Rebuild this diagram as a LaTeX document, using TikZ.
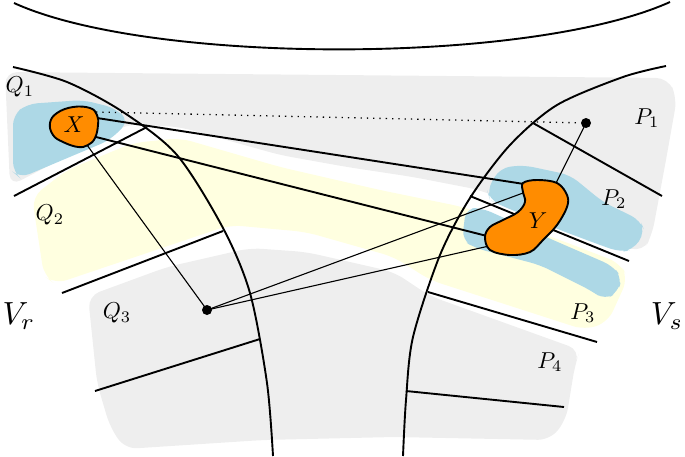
\documentclass[tikz,border=0pt]{standalone}
\begin{document}
\definecolor{gfill}{HTML}{EEEEEE}
\definecolor{yfill}{HTML}{FFFFE0}
\definecolor{bfill}{HTML}{ADD8E6}
\definecolor{blobor}{HTML}{FF8C00}
\begin{tikzpicture}[x=1pt,y=-1pt,
  region/.style={rounded corners=12pt},
  bound/.style={line width=1.9pt},
  part/.style={line width=1.9pt},
  thickc/.style={line width=1.9pt},
  thinc/.style={line width=1.1pt},
  dotc/.style={line width=1.3pt, dash pattern=on 1.3pt off 5pt},
  blob/.style={fill=blobor, draw=black, line width=1.9pt},
  lab/.style={scale=2.3, inner sep=0pt},
  vlab/.style={scale=3.2, inner sep=0pt},
  dotn/.style={circle, fill=black, inner sep=0pt, minimum size=10pt}]
\useasboundingbox (0,0) rectangle (685,456);
% regions
\fill[gfill, region] (5,72) -- (668,78) -- (677,98) -- (666,160) -- (652,235) -- (643,252) -- (600,240) -- (540,215) -- (480,190) -- (413,177) -- (347,167) -- (280,155) -- (180,127) -- (128,124) -- (10,186) -- cycle;
\fill[yfill, region] (32,197) -- (67,170) -- (133,143) -- (180,138) -- (280,167) -- (380,190) -- (463,207) -- (560,240) -- (620,263) -- (628,278) -- (608,322) -- (585,330) -- (430,280) -- (394,257) -- (306,232) -- (230,225) -- (55,284) -- (44,276) -- cycle;
\fill[gfill, region] (88,296) -- (167,267) -- (250,248) -- (306,252) -- (394,272) -- (430,296) -- (580,350) -- (575,365) -- (566,420) -- (550,440) -- (394,437) -- (263,440) -- (125,449) -- (110,427) -- (97,383) -- cycle;
\fill[bfill, rounded corners=10pt] (13,115) -- (27,104) -- (83,100) -- (115,108) -- (129,121) -- (110,140) -- (20,178) -- (13,172) -- cycle;
\fill[bfill, rounded corners=10pt] (487,190) -- (500,168) -- (523,165) -- (570,175) -- (603,202) -- (640,220) -- (645,232) -- (633,250) -- (620,252) -- (600,245) -- (560,230) -- (500,205) -- (490,200) -- cycle;
\fill[bfill, rounded corners=10pt] (466,208) -- (482,208) -- (553,240) -- (613,266) -- (622,278) -- (618,292) -- (605,300) -- (590,290) -- (540,265) -- (475,248) -- (462,240) -- cycle;
% big arcs
\draw[bound] (14,3) .. controls (150,65) and (530,65) .. (670,2);
\draw[bound] plot[smooth] coordinates {(13,67) (67,82) (123,112) (177,155) (223,228) (250,293) (267,383) (273,456)};
\draw[bound] plot[smooth] coordinates {(666,66) (623,77) (557,105) (510,145) (470,198) (440,255) (413,337) (406,400) (403,456)};
% partition lines
\draw[part] (14,196) -- (147,127);
\draw[part] (62,293) -- (223,231);
\draw[part] (95,391) -- (260,339);
\draw[part] (533,123) -- (662,196);
\draw[part] (470,196) -- (629,261);
\draw[part] (428,292) -- (597,342);
\draw[part] (406,391) -- (564,407);
% dots
\node[dotn] (d3) at (207,310) {};
\node[dotn] (d1) at (586,123) {};
% attachment points
\coordinate (xa) at (97,118);
\coordinate (xb) at (96,137);
\coordinate (xc) at (87,145);
\coordinate (xd) at (96,112);
\coordinate (ya) at (524,184);
\coordinate (yb) at (487,236);
\coordinate (yc) at (523,193);
\coordinate (yd) at (489,246);
\coordinate (ye) at (555,185);
% connectors
\draw[dotc] (xd) -- (d1);
\draw[thickc] (xa) -- (ya);
\draw[thickc] (xb) -- (yb);
\draw[thinc] (xc) -- (d3.center);
\draw[thinc] (d3.center) -- (yc);
\draw[thinc] (d3.center) -- (yd);
\draw[thinc] (d1.center) -- (ye);
% blobs
\draw[blob] plot[smooth cycle, tension=0.7] coordinates {(50,123) (57,113) (73,107) (90,108) (97,115) (98,125) (95,138) (88,145) (78,147) (63,142) (53,135)};
\draw[blob] plot[smooth cycle, tension=0.6] coordinates {(523,183) (537,180) (557,183) (567,195) (567,207) (557,225) (543,240) (530,252) (510,255) (490,250) (485,237) (490,227) (503,220) (518,212) (525,202) (523,192)};
% labels
\node[lab] (lx) at (74,125) {$X$};
\node[lab] (ly) at (538,221) {$Y$};
\node[lab] (q1) at (20,87) {$Q_1$};
\node[lab] (q2) at (50,215) {$Q_2$};
\node[lab] (q3) at (117,313) {$Q_3$};
\node[lab] (p1) at (647,118) {$P_1$};
\node[lab] (p2) at (614,199) {$P_2$};
\node[lab] (p3) at (583,313) {$P_3$};
\node[lab] (p4) at (550,362) {$P_4$};
\node[vlab] (vr) at (19,316) {$V_r$};
\node[vlab] (vs) at (667,316) {$V_s$};
\end{tikzpicture}
\end{document}
